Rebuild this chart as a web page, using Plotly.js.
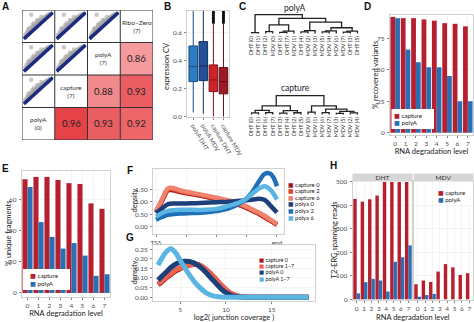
<!DOCTYPE html>
<html><head><meta charset="utf-8">
<script src="https://cdn.plot.ly/plotly-3.0.1.min.js"></script>
<style>html,body{margin:0;padding:0;background:#fff}#plot{width:474px;height:322px}</style>
</head><body><div id="plot"></div>
<script>
// ================= DATA =================
// Panel A: library correlation matrix (rows bottom->top, cols left->right)
const libNames = ["polyA", "capture", "polyA", "Ribo\u2212Zero"];
const libLevels = ["(0)", "(7)", "(7)", "(7)"];
const corrRows = [
  [null, 0.96, 0.93, 0.92],
  [null, null, 0.88, 0.93],
  [null, null, null, 0.86],
  [null, null, null, null]
];
const cloudX = [0.05,0.08,0.1,0.12,0.15,0.18,0.2,0.22,0.25,0.28,0.3,0.33,0.35,0.38,0.4,0.43,0.45,0.48,0.5,0.53,0.55,0.58,0.6,0.63,0.65,0.68,0.7,0.73,0.75,0.78,0.8,0.83,0.85,0.88,0.9,0.3,0.45,0.6,0.2,0.5,0.15,0.35,0.25];
const cloudY = [0.2,0.15,0.28,0.2,0.3,0.25,0.38,0.3,0.4,0.36,0.48,0.42,0.5,0.47,0.56,0.5,0.6,0.55,0.64,0.6,0.68,0.63,0.72,0.68,0.76,0.72,0.8,0.77,0.84,0.8,0.87,0.84,0.9,0.88,0.93,0.55,0.7,0.82,0.45,0.72,0.4,0.6,0.9];
const fitX = [0, 1];
const fitY = [0.06, 0.98];

// Panel B: expression CV boxplots
const cvGroups = ["polyA DHT", "polyA MDV", "capture DHT", "capture MDV"];
const cvLow  = [0.03, 0.02, 0.0, 0.0];
const cvQ1   = [0.249, 0.256, 0.178, 0.162];
const cvMed  = [0.356, 0.361, 0.261, 0.249];
const cvQ3   = [0.503, 0.534, 0.368, 0.349];
const cvHigh = [0.76, 0.76, 0.66, 0.66];
const cvOutX = ["capture DHT","capture DHT","capture DHT","capture DHT","capture DHT","capture DHT","capture DHT","capture DHT","capture DHT",
                "capture MDV","capture MDV","capture MDV","capture MDV","capture MDV","capture MDV","capture MDV","capture MDV","capture MDV"];
const cvOutY = [0.67,0.68,0.69,0.70,0.71,0.72,0.73,0.74,0.75, 0.67,0.68,0.69,0.70,0.71,0.72,0.73,0.74,0.75];
const cvTicks = [0, 0.2, 0.4, 0.6];

// Panel C: dendrograms  (node = leaf index or [left, right, height])
const polyALeaves = ["DHT (0)","DHT (1)","DHT (2)","MDV (0)","DHT (6)","DHT (7)","MDV (1)","DHT (4)","MDV (2)","MDV (3)","MDV (5)","MDV (4)","MDV (6)","MDV (7)","DHT (3)","DHT (5)"];
const polyATree = [[0,1,0.04],
  [[[2,3,0.1],[[4,5,0.06],6,0.12],0.45],
   [[[7,8,0.08],9,0.15],[[[10,11,0.08],12,0.14],[[13,14,0.07],15,0.12],0.3],0.6],0.8],1.0];
const captureLeaves = ["DHT (0)","DHT (1)","DHT (6)","DHT (7)","DHT (3)","DHT (4)","DHT (2)","DHT (5)","MDV (0)","MDV (1)","MDV (6)","MDV (7)","MDV (3)","MDV (5)","MDV (2)","MDV (4)"];
const captureTree = [[[[0,1,0.08],[2,3,0.1],0.22],[[4,5,0.07],[6,7,0.09],0.2],0.45],
  [[8,9,0.12],[[10,11,0.1],[[12,13,0.06],[14,15,0.08],0.16],0.28],0.45],1.0];

// Panels D, E, H: by RNA degradation level
const degLevels = [0, 1, 2, 3, 4, 5, 6, 7];
const varCapture  = [92, 91, 91, 90, 89, 87, 86.5, 84.5];
const varPolyA    = [91, 66, 56, 52, 52, 45, 25, 25];
const varTicks    = [0, 25, 50, 75];
const fragCapture = [73, 74.5, 74.5, 72.5, 70.5, 70, 57.5, 54];
const fragPolyA   = [68, 45.5, 36, 28.5, 32, 24, 11, 12];
const fragTicks   = [0, 20, 40, 60];
const t2DhtCapture = [428, 416, 426, 442, 500, 500, 500, 500];
const t2DhtPolyA   = [25, 73, 87, 80, 33, 160, 179, 230];
const t2MdvCapture = [64, 80, 74, 118, 150, 136, 104, 111];
const t2MdvPolyA   = [11, 18, 23, 0, 0, 0, 0, 0];
const t2Ticks      = [0, 100, 200, 300, 400, 500];
const barSeries = ["capture", "polyA"];
const facets = ["DHT", "MDV"];

// Panel F: coverage along transcript
const covPos = [0,0.05,0.1,0.15,0.2,0.3,0.4,0.5,0.6,0.7,0.75,0.8,0.85,0.9,0.95,1];
const covSeries = ["capture 0","capture 2","capture 6","polya 0","polya 2","polya 6"];
const covValues = [
  [0.57,1.02,1.46,1.46,1.39,1.30,1.21,1.10,0.99,0.84,0.74,0.62,0.50,0.36,0.21,0.06],
  [0.60,1.07,1.51,1.50,1.42,1.33,1.24,1.13,1.02,0.87,0.77,0.65,0.53,0.39,0.24,0.08],
  [0.62,1.10,1.55,1.55,1.46,1.36,1.27,1.16,1.05,0.90,0.80,0.68,0.56,0.42,0.26,0.10],
  [0.54,0.73,0.90,0.93,0.93,0.94,0.96,0.98,1.00,1.04,1.06,1.09,1.12,1.07,0.82,0.56],
  [0.27,0.38,0.47,0.50,0.52,0.54,0.56,0.62,0.73,0.96,1.14,1.42,1.82,2.14,2.12,1.63],
  [0.40,0.54,0.63,0.66,0.67,0.67,0.67,0.71,0.83,1.00,1.14,1.34,1.53,1.63,1.46,1.09]
];
const covTicks = ["TSS", "", "", "", "end"];
const covYTicks = [0, 0.5, 1, 1.5];

// Panel G: junction coverage density
const jcX = [2.6,3,3.5,4,4.5,5,5.5,6,6.5,7,7.5,8,8.5,9,9.5,10,10.5,11,11.5,12,13,15,17,19];
const jcSeries = ["capture 0","capture 1\u22127","polyA 0","polyA 1\u22127"];
const jcValues = [
  [0.065,0.079,0.100,0.118,0.135,0.148,0.158,0.165,0.169,0.168,0.156,0.136,0.114,0.088,0.062,0.039,0.021,0.011,0.004,0.001,0,0,0,0],
  [0.070,0.084,0.105,0.123,0.140,0.152,0.161,0.168,0.171,0.170,0.157,0.136,0.114,0.088,0.062,0.039,0.021,0.011,0.004,0.001,0,0,0,0],
  [0.088,0.108,0.131,0.154,0.171,0.182,0.187,0.185,0.178,0.164,0.144,0.119,0.093,0.067,0.042,0.023,0.011,0.004,0.001,0,0,0,0,0],
  [0.166,0.201,0.236,0.252,0.231,0.192,0.154,0.117,0.084,0.056,0.035,0.018,0.008,0.003,0.001,0,0,0,0,0,0,0,0,0]
];
const jcYTicks = [0, 0.05, 0.1, 0.15, 0.2, 0.25];

// ================= STYLE =================
const W = 474, H = 322;
const FONT = 'Lato, "Open Sans", "DejaVu Sans", sans-serif';
const TXT = '#222', TICKC = '#4d4d4d';
const RED = '#b51f2e', BLUE = '#2b6eb3';
const boxFill = ['#2c7cc4', '#245099', '#cc2229', '#9e1a22'];
const boxLine = ['#1d4f80', '#172f5e', '#7c1419', '#5e0f14'];
const covColors = ['#9e1b1f', '#e0442e', '#f1826b', '#1d3f7a', '#1f70b8', '#5bb5e3'];
const jcColors = ['#9e1b1f', '#ec6450', '#1d3f7a', '#5bb5e3'];
const px = (a, b) => [a / W, b / W];
const py = (t, b) => [1 - b / H, 1 - t / H];
const X = v => v / W, Y = v => 1 - v / H;
const titleFont = {size: 7.5, color: TXT, family: FONT};
const tickFont = {size: 6.5, color: TICKC, family: FONT};

function gg(extra) {
  return Object.assign({
    showline: true, mirror: true, linecolor: '#c4c4c4', linewidth: 0.8,
    showgrid: true, gridcolor: '#ececec', gridwidth: 0.6, zeroline: false,
    ticks: 'outside', ticklen: 2, tickwidth: 0.6, tickcolor: '#333', showticklabels: true,
    ticklabeloverflow: 'allow', automargin: false, tickfont: tickFont, fixedrange: true
  }, extra);
}
function ttl(text, standoff) { return {text: text, standoff: standoff, font: titleFont}; }
function note(x, y, text, font, extra) {
  return Object.assign({xref: 'paper', yref: 'paper', x: X(x), y: Y(y), xanchor: 'center', yanchor: 'middle',
    text: text, showarrow: false, font: font}, extra || {});
}
function ytitle(x, y, text) { return note(x, y, text, titleFont, {textangle: -90}); }
// y tick labels placed on the axis scale (yref = the axis), just left of the panel
function yLabels(axId, leftPx, vals, fmt) {
  vals.forEach(v => layout.annotations.push({xref: 'paper', yref: axId, x: X(leftPx - 3), y: v, xanchor: 'right', yanchor: 'middle',
    text: fmt(v), showarrow: false, font: tickFont}));
}

const traces = [];
const layout = {
  width: W, height: H, margin: {l: 0, r: 0, t: 0, b: 0},
  paper_bgcolor: '#fff', plot_bgcolor: '#fff', showlegend: false,
  font: {family: FONT, size: 7, color: TXT},
  barmode: 'group', bargap: 0.08, bargroupgap: 0, boxmode: 'overlay',
  annotations: [], shapes: []
};

// ---------- Panel A ----------
traces.push({type: 'heatmap', x: [0,1,2,3], y: [0,1,2,3], z: corrRows, zmin: 0.85, zmax: 0.97,
  colorscale: [[0, '#f7a3a5'], [1, '#e43a40']], showscale: false, hoverinfo: 'skip', xaxis: 'x', yaxis: 'y'});
layout.xaxis = {domain: px(22, 153), range: [-0.5, 3.5], visible: false, anchor: 'y', fixedrange: true};
layout.yaxis = {domain: py(10, 140), range: [-0.5, 3.5], visible: false, anchor: 'x', fixedrange: true};
const nLib = corrRows.length;
for (let i = 0; i <= nLib; i++) {
  layout.shapes.push({type: 'line', xref: 'x', yref: 'y', x0: i - 0.5, x1: i - 0.5, y0: -0.5, y1: nLib - 0.5, line: {color: '#333', width: 1}, layer: 'above'});
  layout.shapes.push({type: 'line', xref: 'x', yref: 'y', y0: i - 0.5, y1: i - 0.5, x0: -0.5, x1: nLib - 0.5, line: {color: '#333', width: 1}, layer: 'above'});
}
for (let r = 0; r < nLib; r++) for (let c = 0; c < nLib; c++) {
  if (corrRows[r][c] != null) {
    layout.annotations.push({xref: 'x', yref: 'y', x: c, y: r, xanchor: 'center', yanchor: 'middle', text: corrRows[r][c].toFixed(2),
      showarrow: false, font: {size: 9.5, color: '#222', family: FONT}});
  }
  if (r === c) {
    layout.annotations.push({xref: 'x', yref: 'y', x: c, y: r, xanchor: 'center', yanchor: 'middle', text: libNames[c] + '<br>' + libLevels[c],
      showarrow: false, font: {size: 6.5, color: '#333', family: FONT}});
  }
}
// mini scatter cells
const colEdges = [22, 54.75, 87.5, 120.25, 153];
let ax = 2;
for (let r = 0; r < nLib; r++) for (let c = 0; c < nLib; c++) {
  if (c >= r) continue;
  const top = 140 - (r + 1) * 32.5, bot = 140 - r * 32.5;
  layout['xaxis' + ax] = {domain: px(colEdges[c] + 1, colEdges[c + 1] - 1), range: [-0.03, 1.03], visible: false, anchor: 'y' + ax, fixedrange: true};
  layout['yaxis' + ax] = {domain: py(top + 1, bot - 1), range: [-0.03, 1.03], visible: false, anchor: 'x' + ax, fixedrange: true};
  traces.push({type: 'scatter', mode: 'markers', x: cloudX, y: cloudY, xaxis: 'x' + ax, yaxis: 'y' + ax,
    marker: {color: 'rgba(165,165,165,0.6)', size: 4.5}, hoverinfo: 'skip'});
  traces.push({type: 'scatter', mode: 'lines', x: fitX, y: fitY, xaxis: 'x' + ax, yaxis: 'y' + ax,
    line: {color: '#1c2a80', width: 3.5}, hoverinfo: 'skip'});
  ax++;
}

// ---------- Panel B ----------
for (let i = 0; i < cvGroups.length; i++) {
  traces.push({type: 'box', x: [cvGroups[i]], q1: [cvQ1[i]], median: [cvMed[i]], q3: [cvQ3[i]],
    lowerfence: [cvLow[i]], upperfence: [cvHigh[i]], boxpoints: false, width: 0.85, whiskerwidth: 0,
    fillcolor: boxFill[i], line: {color: boxLine[i], width: 1}, xaxis: 'x8', yaxis: 'y8', hoverinfo: 'skip'});
}
traces.push({type: 'scatter', mode: 'markers', x: cvOutX, y: cvOutY, xaxis: 'x8', yaxis: 'y8',
  marker: {color: '#111', size: 3}, hoverinfo: 'skip'});
layout.xaxis8 = gg({domain: px(187, 229), anchor: 'y8', type: 'category', categoryorder: 'array', categoryarray: cvGroups,
  range: [-0.62, 3.55], tickangle: 60, tickfont: {size: 6, color: TICKC, family: FONT}});
layout.yaxis8 = gg({domain: py(11, 117), anchor: 'x8', range: [-0.003, 0.752], tickmode: 'array', tickvals: cvTicks, showticklabels: false});
yLabels('y8', 187, cvTicks, v => v.toFixed(1));
layout.annotations.push(ytitle(166, 66, 'expression CV'));

// ---------- Panel C ----------
function dendro(tree) {
  const xs = [], ys = [];
  function walk(n) {
    if (!Array.isArray(n)) return {x: n, h: 0};
    const a = walk(n[0]), b = walk(n[1]), h = n[2];
    xs.push(a.x, a.x, b.x, b.x, null); ys.push(a.h, h, h, b.h, null);
    return {x: (a.x + b.x) / 2, h: h};
  }
  walk(tree);
  return {xs: xs, ys: ys};
}
const dendros = [[polyATree, polyALeaves, 9, 14, 34, 'polyA', 8], [captureTree, captureLeaves, 10, 95, 115, 'capture', 88]];
dendros.forEach(d => {
  const seg = dendro(d[0]);
  const k = d[2];
  traces.push({type: 'scatter', mode: 'lines', x: seg.xs, y: seg.ys, xaxis: 'x' + k, yaxis: 'y' + k,
    line: {color: '#222', width: 1.3}, hoverinfo: 'skip'});
  layout['xaxis' + k] = {domain: px(248, 361), anchor: 'y' + k, range: [-0.5, d[1].length - 0.5],
    tickmode: 'array', tickvals: d[1].map((_, i) => i), ticktext: d[1], tickangle: -90, ticklabeloverflow: 'allow',
    tickfont: {size: 5.5, color: '#333', family: FONT}, showgrid: false, showline: false, zeroline: false, ticks: '', fixedrange: true};
  layout['yaxis' + k] = {domain: py(d[3], d[4]), anchor: 'x' + k, range: [-0.03, 1.03], visible: false, fixedrange: true};
  layout.annotations.push(note(295, d[6], d[5], {size: 8.5, color: TXT, family: FONT}));
});

// ---------- Panels D and E ----------
const barPanels = [
  [varCapture, varPolyA, 11, [390, 473], py(15, 135), [-1.8, 93.5], varTicks, '% recovered variants', 375, 75],
  [fragCapture, fragPolyA, 12, [22, 110], py(171, 297), [-2.6, 78.3], fragTicks, '% unique fragments', 8, 234]
];
barPanels.forEach(p => {
  const k = p[2];
  traces.push({type: 'bar', x: degLevels, y: p[0], name: barSeries[0], marker: {color: RED}, xaxis: 'x' + k, yaxis: 'y' + k, hoverinfo: 'skip'});
  traces.push({type: 'bar', x: degLevels, y: p[1], name: barSeries[1], marker: {color: BLUE}, xaxis: 'x' + k, yaxis: 'y' + k, hoverinfo: 'skip'});
  layout['xaxis' + k] = gg({domain: px(p[3][0], p[3][1]), anchor: 'y' + k, range: [-0.5, 7.5], tickvals: degLevels, title: ttl('RNA degradation level', 2)});
  layout['yaxis' + k] = gg({domain: p[4], anchor: 'x' + k, range: p[5], tickmode: 'array', tickvals: p[6], showticklabels: false});
  yLabels('y' + k, p[3][0], p[6], String);
  layout.annotations.push(ytitle(p[8], p[9], p[7]));
});

// ---------- Panel F ----------
covSeries.forEach((s, i) => {
  traces.push({type: 'scatter', mode: 'lines', x: covPos, y: covValues[i], name: s, xaxis: 'x13', yaxis: 'y13',
    line: {color: covColors[i], width: 4.5, shape: 'spline', smoothing: 1}, hoverinfo: 'skip'});
});
layout.xaxis13 = gg({domain: px(153, 284), anchor: 'y13', range: [-0.025, 1.058], tickmode: 'array', tickvals: [0, 0.25, 0.5, 0.75, 1], ticktext: covTicks});
layout.yaxis13 = gg({domain: py(169, 234), anchor: 'x13', range: [-0.31, 2.33], tickmode: 'array', tickvals: covYTicks, showticklabels: false});
yLabels('y13', 153, covYTicks, v => v.toFixed(2));
layout.annotations.push(ytitle(133.5, 201, 'density'));

// ---------- Panel G ----------
jcSeries.forEach((s, i) => {
  traces.push({type: 'scatter', mode: 'lines', x: jcX, y: jcValues[i], name: s, xaxis: 'x14', yaxis: 'y14',
    line: {color: jcColors[i], width: 5, shape: 'spline', smoothing: 1}, hoverinfo: 'skip'});
});
layout.xaxis14 = gg({domain: px(153, 315), anchor: 'y14', range: [2.05, 19.7], tickvals: [5, 10, 15], title: ttl('log2( junction coverage )', 2)});
layout.yaxis14 = gg({domain: py(245, 301), anchor: 'x14', range: [-0.02, 0.271], tickmode: 'array', tickvals: jcYTicks, showticklabels: false});
yLabels('y14', 153, jcYTicks, v => v.toFixed(2));
layout.annotations.push(ytitle(133.5, 273, 'density'));

// ---------- Panel H ----------
const hData = [[t2DhtCapture, t2DhtPolyA, 15, [353, 412]], [t2MdvCapture, t2MdvPolyA, 16, [414, 473]]];
hData.forEach((p, j) => {
  const k = p[2];
  traces.push({type: 'bar', x: degLevels, y: p[0], name: barSeries[0], marker: {color: RED}, xaxis: 'x' + k, yaxis: 'y' + k, hoverinfo: 'skip'});
  traces.push({type: 'bar', x: degLevels, y: p[1], name: barSeries[1], marker: {color: BLUE}, xaxis: 'x' + k, yaxis: 'y' + k, hoverinfo: 'skip'});
  layout['xaxis' + k] = gg({domain: px(p[3][0], p[3][1]), anchor: 'y' + k, range: [-0.5, 7.5], tickvals: degLevels});
  layout['yaxis' + k] = gg({domain: py(181, 300), anchor: 'x' + k, range: [-3, 504], tickmode: 'array', tickvals: t2Ticks,
    showticklabels: false, ticks: j === 0 ? 'outside' : ''});
  if (j === 0) yLabels('y' + k, p[3][0], t2Ticks, String);
  layout.annotations.push(note((p[3][0] + p[3][1]) / 2, 177.5, facets[j], {size: 6.5, color: '#333', family: FONT},
    {width: p[3][1] - p[3][0], height: 7, bgcolor: '#d6d6d6', borderpad: 0}));
});
layout.annotations.push(ytitle(333.5, 240, 'T2-ERG spanning reads'));
layout.annotations.push(note(413, 317, 'RNA degradation level', titleFont));

// ---------- Legends ----------
function legend(x, yTop, step, names, colors, fs, box) {
  if (box) layout.shapes.push({type: 'rect', xref: 'paper', yref: 'paper', x0: X(box[0]), x1: X(box[1]), y0: Y(box[3]), y1: Y(box[2]),
    fillcolor: '#fff', line: {width: 0}, layer: 'above'});
  names.forEach((n, i) => {
    layout.annotations.push(note(x, yTop + i * step,
      '<span style="color:' + colors[i] + '">\u25A0</span> ' + n,
      {size: fs, color: TXT, family: FONT}, {xanchor: 'left'}));
  });
}
legend(392, 115, 7.5, barSeries, [RED, BLUE], 6.2, [391.5, 434, 109, 129]);
legend(28, 275.5, 7.5, barSeries, [RED, BLUE], 6.2, [23, 70, 269, 290]);
legend(436, 192, 7.5, barSeries, [RED, BLUE], 6, [434, 472, 186, 204]);
legend(286, 184, 6.6, covSeries, covColors, 5.9, null);
legend(257, 259.5, 6.4, jcSeries, jcColors, 5.4, null);

// ---------- Panel letters ----------
const letters = [['A', 5, 6], ['B', 167, 6], ['C', 243, 6], ['D', 367, 6], ['E', 5, 168], ['F', 130, 170], ['G', 130, 238], ['H', 333, 165]];
letters.forEach(l => layout.annotations.push(note(l[1], l[2], '<b>' + l[0] + '</b>',
  {size: 10, color: '#111', family: '"Liberation Sans", Arial, sans-serif'})));

Plotly.newPlot('plot', traces, layout, {staticPlot: true, displayModeBar: false});
</script></body></html>
